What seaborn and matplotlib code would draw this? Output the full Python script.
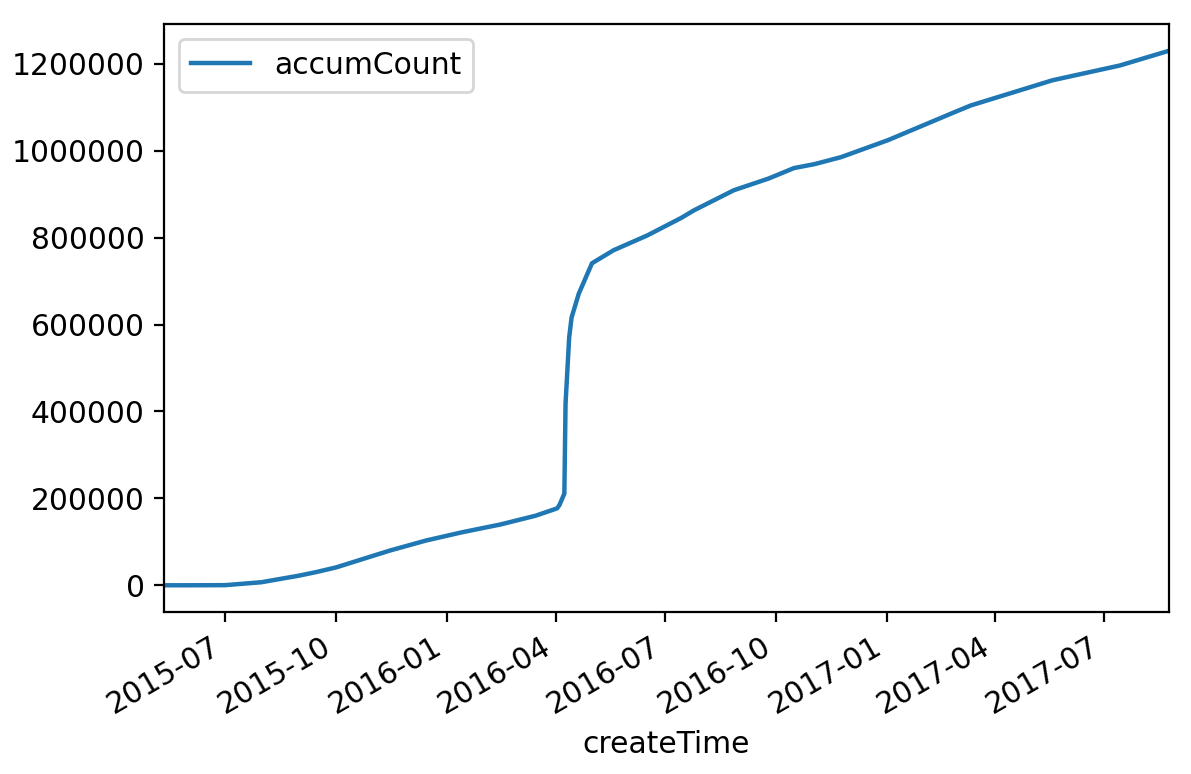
import pandas as pd
import matplotlib
matplotlib.use("Agg")
import matplotlib.pyplot as plt
import matplotlib.dates as mdates
import seaborn as sns

# values
create_time = [
    "2015-05-11", "2015-06-01", "2015-07-01", "2015-07-31", "2015-08-31",
    "2015-09-14", "2015-10-01", "2015-11-15", "2015-12-15", "2016-01-14",
    "2016-02-15", "2016-03-15", "2016-04-02", "2016-04-04", "2016-04-08",
    "2016-04-09", "2016-04-12", "2016-04-14", "2016-04-20", "2016-05-01",
    "2016-05-19", "2016-06-16", "2016-07-14", "2016-07-25", "2016-08-27",
    "2016-09-25", "2016-10-16", "2016-11-02", "2016-11-24", "2017-01-02",
    "2017-02-26", "2017-03-12", "2017-05-19", "2017-07-14", "2017-08-24",
]
accum_count = [
    0, 0, 300, 7000, 22000,
    30000, 41000, 80000, 103000, 122000,
    140000, 160000, 177000, 185000, 211000,
    418000, 570000, 616000, 671000, 741000,
    771000, 805000, 845000, 863000, 909000,
    936000, 960000, 969000, 985000, 1024000,
    1088000, 1104000, 1162000, 1196000, 1230000,
]

df = pd.DataFrame({"createTime": pd.to_datetime(create_time), "accumCount": accum_count})

plt.rcParams["font.family"] = ["DejaVu Sans"]
plt.rcParams["font.size"] = 10.7

fig, ax = plt.subplots(figsize=(11.91 / 2, 7.74 / 2), dpi=200)
sns.lineplot(data=df, x="createTime", y="accumCount", label="accumCount",
             color="#1f77b4", linewidth=1.6, ax=ax)

ax.set_xlim(df["createTime"].min(), df["createTime"].max())
ax.set_ylim(-61500, 1291500)
ax.ticklabel_format(axis="y", style="plain", useOffset=False)
ax.xaxis.set_major_locator(mdates.MonthLocator(bymonth=[1, 4, 7, 10]))
ax.xaxis.set_major_formatter(mdates.DateFormatter("%Y-%m"))
for lbl in ax.get_xticklabels():
    lbl.set_rotation(30)
    lbl.set_ha("right")

ax.set_xlabel("createTime")
ax.set_ylabel("")
ax.legend(loc="upper left")

fig.subplots_adjust(left=0.1377, right=0.9816, top=0.969, bottom=0.2093)
fig.savefig("out.png", dpi=200)
plt.close(fig)
